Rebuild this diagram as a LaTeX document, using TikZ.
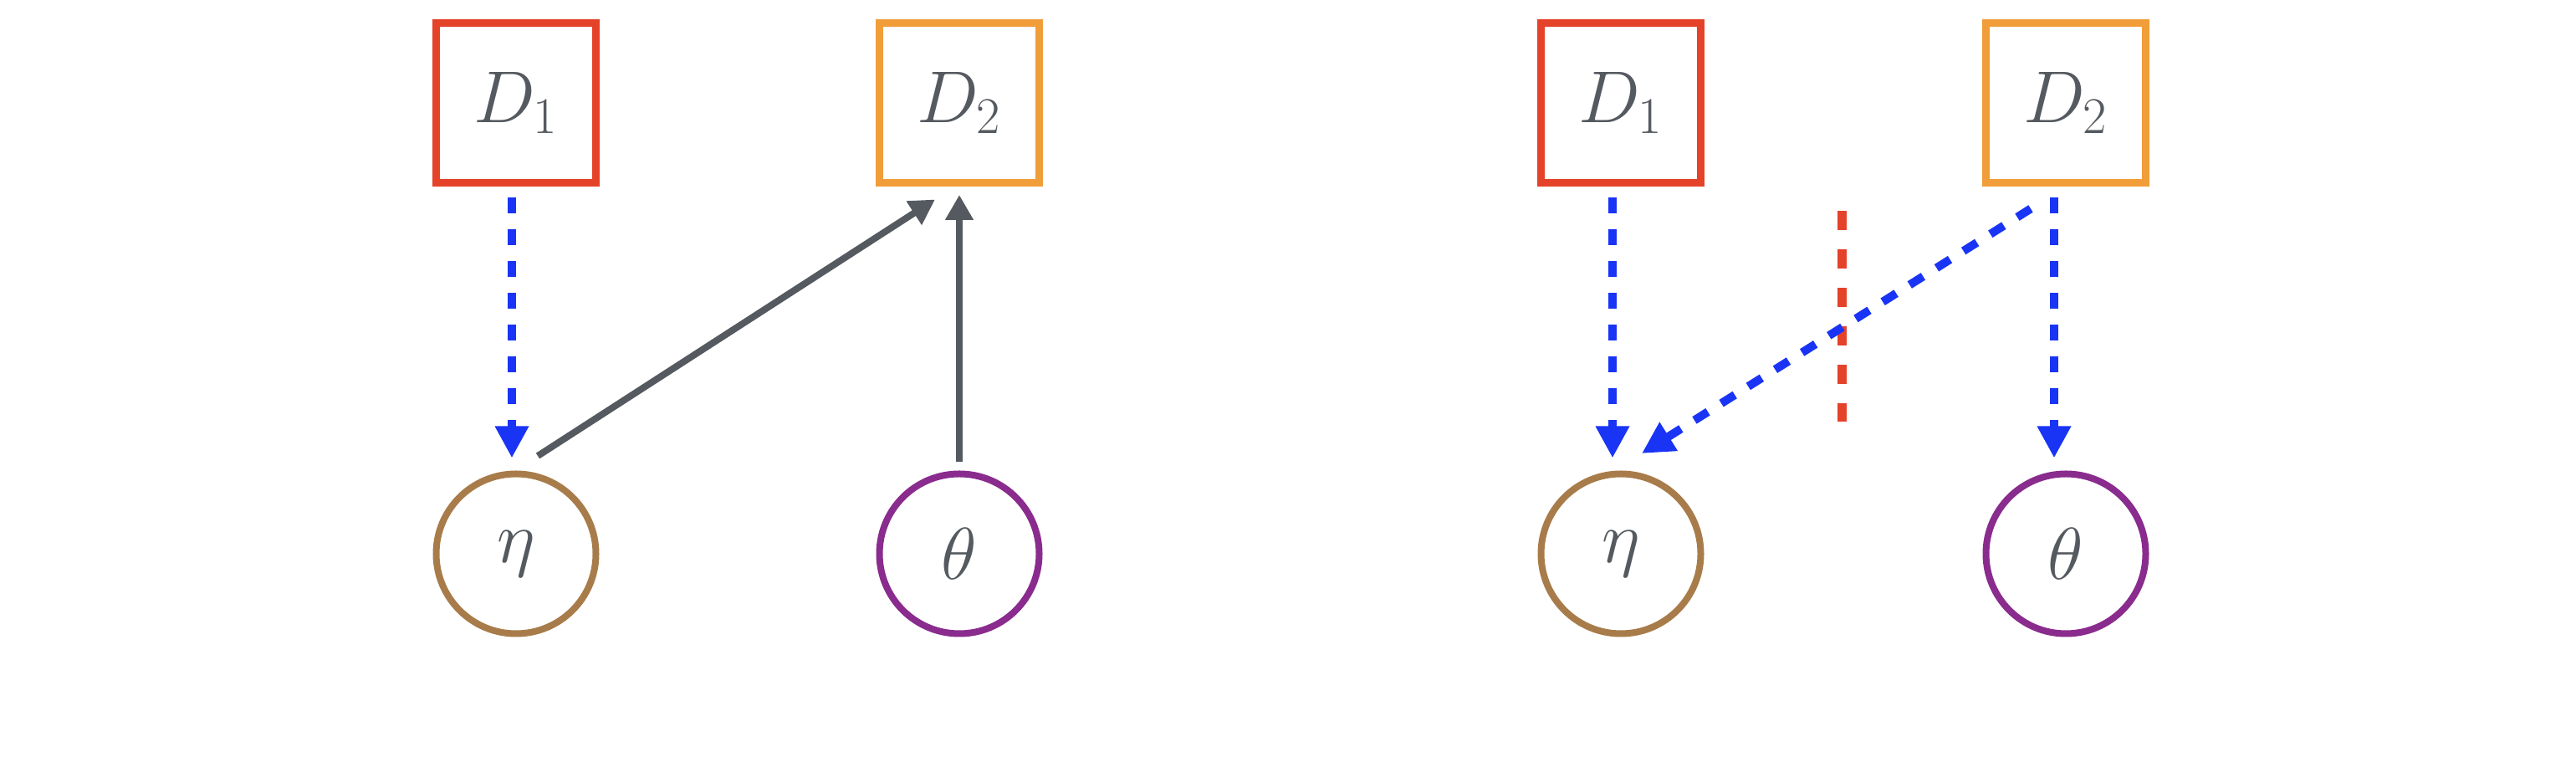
\RequirePackage{fix-cm}
\documentclass[tikz,border=0pt]{standalone}
\usepackage{amsmath}
\usetikzlibrary{arrows.meta}
\definecolor{boxred}{RGB}{229,66,42}
\definecolor{boxorange}{RGB}{240,157,58}
\definecolor{etabrown}{RGB}{168,124,74}
\definecolor{thetapurple}{RGB}{138,43,142}
\definecolor{inferblue}{RGB}{26,52,245}
\definecolor{depgray}{RGB}{85,90,96}
\begin{document}
\begin{tikzpicture}[
    databox/.style={draw=#1, rectangle, minimum size=1.91cm, inner sep=0pt, line width=0.09cm, text=depgray, font=\fontsize{25}{30}\selectfont},
    varnode/.style={draw=#1, circle, minimum size=1.91cm, inner sep=0pt, line width=0.08cm, text=depgray, font=\fontsize{25}{30}\selectfont},
    infer/.style={inferblue, line width=0.1cm, dash pattern=on 0.19cm off 0.19cm, -{Triangle[length=0.38cm,width=0.38cm]}},
    dep/.style={depgray, line width=0.08cm, -{Triangle[length=0.3cm,width=0.32cm]}},
    cut/.style={boxred, line width=0.11cm, dash pattern=on 0.23cm off 0.23cm}]
    \useasboundingbox (0,0) rectangle (30.8,9.36);
    \node[databox=boxred] (D1l) at (6.17,8.13) {$D_1$};
    \node[databox=boxorange] (D2l) at (11.47,8.13) {$D_2$};
    \node[varnode=etabrown] (etal) at (6.17,2.74) {$\eta$};
    \node[varnode=thetapurple] (thetal) at (11.47,2.74) {$\theta$};
    \draw[infer, shorten <=0.13cm, shorten >=0.15cm] ([xshift=-0.05cm]D1l.south) -- ([xshift=-0.05cm]etal.north);
    \draw[dep] ([shift={(0.26,0.175)}]etal.north) -- ([shift={(-0.29,-0.155)}]D2l.south);
    \draw[dep, shorten <=0.1cm, shorten >=0.1cm] (thetal.north) -- (D2l.south);
    \node[databox=boxred] (D1r) at (19.38,8.13) {$D_1$};
    \node[databox=boxorange] (D2r) at (24.70,8.13) {$D_2$};
    \node[varnode=etabrown] (etar) at (19.38,2.74) {$\eta$};
    \node[varnode=thetapurple] (thetar) at (24.70,2.74) {$\theta$};
    \coordinate (cuttop) at (22.02,6.84);
    \coordinate (cutbot) at (22.02,4.32);
    \draw[cut] (cuttop) -- (cutbot);
    \draw[infer, shorten <=0.13cm, shorten >=0.15cm] ([xshift=-0.1cm]D1r.south) -- ([xshift=-0.1cm]etar.north);
    \draw[infer] ([shift={(-0.42,-0.265)}]D2r.south) -- ([shift={(0.25,0.205)}]etar.north);
    \draw[infer, shorten <=0.13cm, shorten >=0.15cm] ([xshift=-0.14cm]D2r.south) -- ([xshift=-0.14cm]thetar.north);
\end{tikzpicture}
\end{document}
